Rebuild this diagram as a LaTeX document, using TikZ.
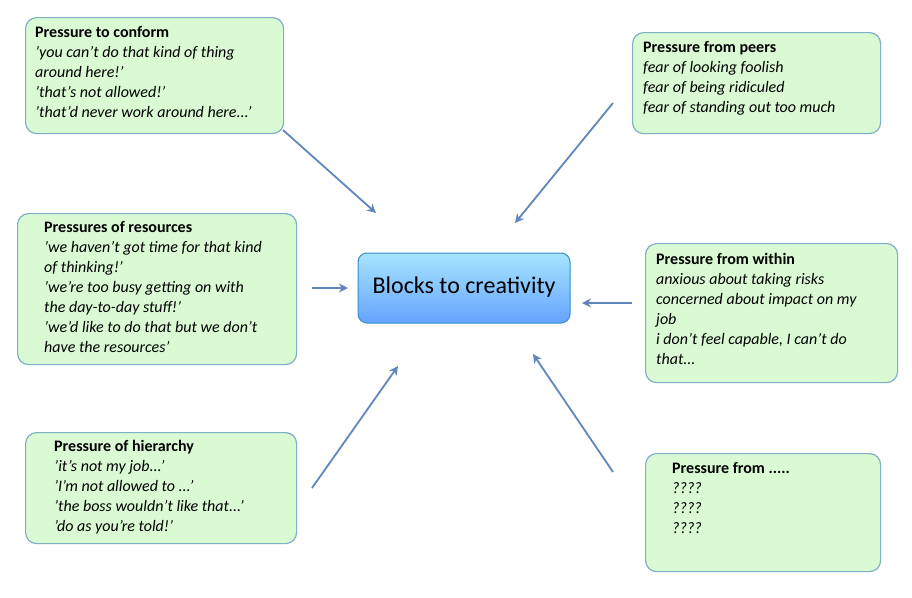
\documentclass[tikz,border=0pt]{standalone}
\usepackage{fontspec}
\setmainfont{Carlito}
\usetikzlibrary{arrows.meta}
\definecolor{boxfill}{RGB}{218,250,212}
\definecolor{boxline}{RGB}{125,175,200}
\definecolor{arr}{RGB}{95,135,190}
\begin{document}
\begin{tikzpicture}[x=1pt,y=-1pt,
  box/.style={draw=boxline,fill=boxfill,line width=1.2pt,rounded corners=11pt,anchor=north west,inner sep=0pt},
  txt/.style={anchor=north west,align=left,font=\fontsize{16}{20}\selectfont,inner sep=0pt},
  arw/.style={draw=arr,line width=1.8pt,-{Stealth[length=9pt,width=9pt]}}]
\useasboundingbox (0,0) rectangle (912,597);
\fill[white] (0,0) rectangle (912,597);
% boxes
\node[box,minimum width=258pt,minimum height=116pt] (b1) at (25,17) {};
\node[txt] (t1) at (35,26) {\textbf{Pressure to conform}\\\textit{'you can't do that kind of thing}\\\textit{around here!'}\\\textit{'that's not allowed!'}\\\textit{'that'd never work around here...'}};
\node[box,minimum width=248pt,minimum height=101pt] (b2) at (632,32) {};
\node[txt] (t2) at (643,41) {\textbf{Pressure from peers}\\\textit{fear of looking foolish}\\\textit{fear of being ridiculed}\\\textit{fear of standing out too much}};
\node[box,minimum width=279pt,minimum height=151pt] (b3) at (17,213) {};
\node[txt] (t3) at (44,221) {\textbf{Pressures of resources}\\\textit{'we haven't got time for that kind}\\\textit{of thinking!'}\\\textit{'we're too busy getting on with}\\\textit{the day-to-day stuff!'}\\\textit{'we'd like to do that but we don't}\\\textit{have the resources'}};
\node[box,minimum width=252pt,minimum height=139pt] (b5) at (645,243) {};
\node[txt] (t5) at (656,253) {\textbf{Pressure from within}\\\textit{anxious about taking risks}\\\textit{concerned about impact on my}\\\textit{job}\\\textit{i don't feel capable, I can't do}\\\textit{that...}};
\node[box,minimum width=271pt,minimum height=111pt] (b6) at (25,432) {};
\node[txt] (t6) at (54,440) {\textbf{Pressure of hierarchy}\\\textit{'it's not my job...'}\\\textit{'I'm not allowed to ...'}\\\textit{'the boss wouldn't like that...'}\\\textit{'do as you're told!'}};
\node[box,minimum width=235pt,minimum height=118pt] (b7) at (645,453) {};
\node[txt] (t7) at (672,462) {\textbf{Pressure from .....}\\\textit{????}\\\textit{????}\\\textit{????}};
% centre
\shade[top color=blue!30!cyan!35!white,bottom color=blue!60!cyan!60!white,draw=blue!40!cyan!60!gray,line width=1pt,rounded corners=9pt] (358,253) rectangle (570,323);
\node[font=\fontsize{24}{28}\selectfont] (c) at (464,287) {Blocks to creativity};
% arrow ends
\coordinate (a1s) at (283,130); \coordinate (a1e) at (376,213);
\coordinate (a2s) at (613,103); \coordinate (a2e) at (515,223);
\coordinate (a3s) at (312,288); \coordinate (a3e) at (348,288);
\coordinate (a5s) at (632,303); \coordinate (a5e) at (582,303);
\coordinate (a6s) at (312,488); \coordinate (a6e) at (398,366);
\coordinate (a7s) at (613,472); \coordinate (a7e) at (533,354);
\draw[arw] (a1s) -- (a1e);
\draw[arw] (a2s) -- (a2e);
\draw[arw] (a3s) -- (a3e);
\draw[arw] (a5s) -- (a5e);
\draw[arw] (a6s) -- (a6e);
\draw[arw] (a7s) -- (a7e);
\end{tikzpicture}
\end{document}
